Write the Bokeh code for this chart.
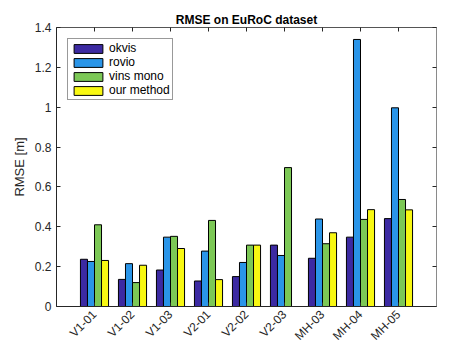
import math
import numpy as np
from bokeh.plotting import figure
from bokeh.models import (Range1d, LinearAxis, FixedTicker, CustomJSTickFormatter,
                          Legend, LegendItem, ColumnDataSource)
from bokeh.embed import file_html
from bokeh.resources import INLINE

datasets = ["V1-01", "V1-02", "V1-03", "V2-01", "V2-02", "V2-03", "MH-03", "MH-04", "MH-05"]
okvis = [0.237, 0.136, 0.183, 0.128, 0.150, 0.308, 0.242, 0.348, 0.441]
rovio = [0.226, 0.215, 0.348, 0.278, 0.221, 0.256, 0.439, 1.340, 0.997]
vins_mono = [0.410, 0.120, 0.352, 0.432, 0.308, 0.697, 0.315, 0.437, 0.537]
our_method = [0.231, 0.207, 0.291, 0.135, 0.308, np.nan, 0.370, 0.486, 0.485]
series_names = ["okvis", "rovio", "vins mono", "our method"]
y_ticks = [0, 0.2, 0.4, 0.6, 0.8, 1.0, 1.2, 1.4]

colors = ["#3C2AA2", "#2A95E8", "#7CC856", "#F8F812"]
FONT = "Liberation Sans"
TXT = "#262626"

p = figure(width=459, height=353, output_backend="svg", toolbar_location=None,
           x_range=Range1d(0, 10), y_range=Range1d(0, 1.4),
           min_border_left=56, min_border_right=23, min_border_top=27, min_border_bottom=47,
           title="RMSE on EuRoC dataset")
p.title.align = "center"
p.title.text_font = FONT
p.title.text_font_size = "12px"
p.title.text_font_style = "bold"
p.title.text_color = "black"
p.title.offset = 0
p.title.standoff = 2
p.xgrid.visible = False
p.ygrid.visible = False
p.outline_line_color = "#8a8a8a"
p.background_fill_color = "white"
p.border_fill_color = "white"

xs = np.arange(1, len(datasets) + 1)
bw = 0.185
offsets = [-1.5 * bw, -0.5 * bw, 0.5 * bw, 1.5 * bw]
items = []
for name, vals, col, off in zip(series_names, [okvis, rovio, vins_mono, our_method], colors, offsets):
    src = ColumnDataSource(dict(x=xs + off, top=np.array(vals, dtype=float)))
    r = p.vbar(x="x", top="top", width=bw, source=src, fill_color=col,
               line_color="black", line_width=1)
    items.append(LegendItem(label=name, renderers=[r]))

x_labels = {int(i): d for i, d in zip(xs, datasets)}
fmt_y = CustomJSTickFormatter(code="return String(Math.round(tick*10)/10);")
fmt_blank = CustomJSTickFormatter(code="return '';")

xa = p.xaxis[0]
xa.ticker = FixedTicker(ticks=list(xs))
xa.major_label_overrides = x_labels
xa.major_label_orientation = math.pi / 4
xa.major_tick_in = 4
xa.major_tick_out = 0
xa.minor_tick_line_color = None
xa.major_label_text_font = FONT
xa.major_label_text_font_size = "12px"
xa.major_label_text_color = TXT
xa.axis_line_color = TXT
xa.major_tick_line_color = TXT
xa.major_label_standoff = 6

ya = p.yaxis[0]
ya.ticker = FixedTicker(ticks=y_ticks)
ya.formatter = fmt_y
ya.major_tick_in = 4
ya.major_tick_out = 0
ya.minor_tick_line_color = None
ya.major_label_text_font = FONT
ya.major_label_text_font_size = "12px"
ya.major_label_text_color = TXT
ya.axis_line_color = TXT
ya.major_tick_line_color = TXT
ya.axis_label = "RMSE [m]"
ya.axis_label_text_font = FONT
ya.axis_label_text_font_size = "13px"
ya.axis_label_text_font_style = "normal"
ya.axis_label_text_color = TXT
ya.axis_label_standoff = 5

top_ax = LinearAxis(ticker=FixedTicker(ticks=list(xs)), formatter=fmt_blank,
                    major_label_text_font_size="1px",
                    major_tick_in=4, major_tick_out=0, minor_tick_line_color=None,
                    axis_line_color="#555555", major_tick_line_color=TXT,
                    major_label_standoff=0)
right_ax = LinearAxis(ticker=FixedTicker(ticks=y_ticks), formatter=fmt_blank,
                      major_label_text_font_size="1px",
                      major_tick_in=4, major_tick_out=0, minor_tick_line_color=None,
                      axis_line_color="#8a8a8a", major_tick_line_color=TXT,
                      major_label_standoff=0)
p.add_layout(top_ax, "above")
p.add_layout(right_ax, "right")

legend = Legend(items=items, location="top_left")
legend.margin = 11
legend.padding = 2
legend.spacing = 0
legend.glyph_width = 36
legend.glyph_height = 11
legend.label_height = 12
legend.label_standoff = 3
legend.label_text_font = FONT
legend.label_text_font_size = "12px"
legend.label_text_color = "black"
legend.border_line_color = "#333333"
legend.border_line_width = 1
legend.background_fill_alpha = 1
p.add_layout(legend)

open("out.html", "w").write(file_html(p, INLINE))
